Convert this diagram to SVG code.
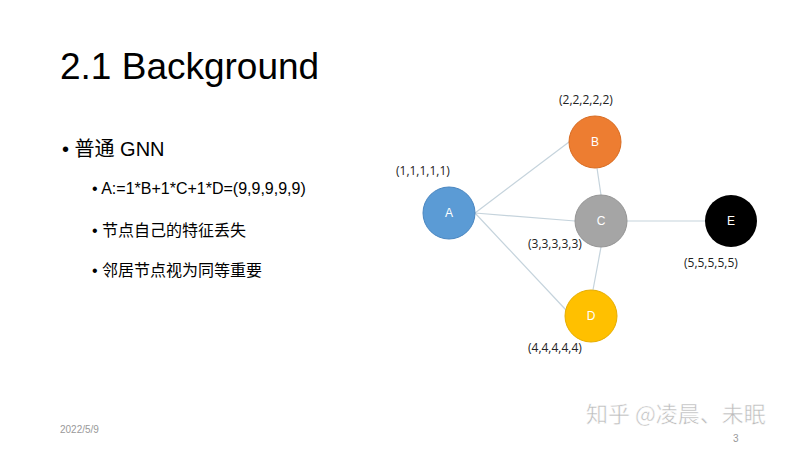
<svg xmlns="http://www.w3.org/2000/svg" width="800" height="450" viewBox="0 0 800 450">
<style>
.t{font-family:"Liberation Sans","Noto Sans CJK SC",sans-serif;fill:#000}
.lab{font-family:"Open Sans","Liberation Sans",sans-serif;font-size:12px;fill:#222}
.nl{font-family:"Liberation Sans",sans-serif;font-size:12px;fill:#fff;text-anchor:middle}
.e{stroke:#c5d3dc;stroke-width:1.2}
</style>
<rect width="800" height="450" fill="#fff"/>
<text class="t" x="60" y="79" font-size="37">2.1 Background</text>
<text class="t" x="62" y="156" font-size="20">• 普通 GNN</text>
<text class="t" x="92" y="194" font-size="16">• A:=1*B+1*C+1*D=(9,9,9,9,9)</text>
<text class="t" x="92" y="236" font-size="16">• 节点自己的特征丢失</text>
<text class="t" x="92" y="276" font-size="16">• 邻居节点视为同等重要</text>
<g id="edges">
<line class="e" x1="475" y1="213" x2="569" y2="142"/>
<line class="e" x1="475" y1="213" x2="575" y2="221"/>
<line class="e" x1="475" y1="213" x2="566" y2="310"/>
<line class="e" x1="597" y1="168" x2="601" y2="195"/>
<line class="e" x1="601" y1="247" x2="593" y2="290"/>
<line class="e" x1="627" y1="221" x2="705" y2="221"/>
</g>
<g id="A"><circle cx="449" cy="213" r="26" fill="#5b9bd5" stroke="#4a86c0"/><text class="nl" x="449" y="217">A</text><text class="lab" x="396" y="175">(1,1,1,1,1)</text></g>
<g id="B"><circle cx="595" cy="142" r="26" fill="#ed7d31" stroke="#d86c22"/><text class="nl" x="595" y="146">B</text><text class="lab" x="559" y="104">(2,2,2,2,2)</text></g>
<g id="C"><circle cx="601" cy="221" r="26" fill="#a5a5a5" stroke="#959595"/><text class="nl" x="601" y="225">C</text><text class="lab" x="528" y="248">(3,3,3,3,3)</text></g>
<g id="D"><circle cx="591" cy="316" r="26" fill="#ffc000" stroke="#e6ad00"/><text class="nl" x="591" y="320">D</text><text class="lab" x="528" y="352">(4,4,4,4,4)</text></g>
<g id="E"><circle cx="731" cy="221" r="26" fill="#000"/><text class="nl" x="731" y="225">E</text><text class="lab" x="684" y="267">(5,5,5,5,5)</text></g>
<text x="60" y="433" font-family="Liberation Sans,sans-serif" font-size="10" fill="#999">2022/5/9</text>
<text x="733" y="442" font-family="Liberation Sans,sans-serif" font-size="10" fill="#999">3</text>
<text x="586" y="422" font-family="Noto Sans CJK SC,sans-serif" font-size="22" fill="#bbb" stroke="#fff" stroke-width="0.5">知乎 @凌晨、未眠</text>
</svg>
